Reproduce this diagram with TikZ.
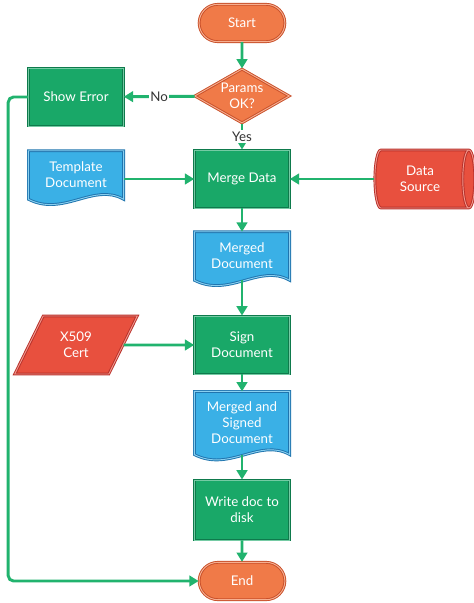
\documentclass[tikz,border=0pt]{standalone}
\usepackage{fontspec}
\setmainfont{Lato}
\usetikzlibrary{shapes.geometric,shapes.misc,arrows.meta,backgrounds}
\definecolor{termfill}{HTML}{F07A48}
\definecolor{termline}{HTML}{C9502A}
\definecolor{procfill}{HTML}{19A868}
\definecolor{procline}{HTML}{0E7A4C}
\definecolor{docfill}{HTML}{3AB0E6}
\definecolor{docline}{HTML}{1F74AE}
\definecolor{datafill}{HTML}{E8503E}
\definecolor{dataline}{HTML}{B8302A}
\definecolor{flowline}{HTML}{21B36E}
\begin{document}
\begin{tikzpicture}[x=0.75pt,y=-0.75pt,
  every node/.style={font=\fontsize{10}{12}\selectfont,text=white,align=center},
  outline/.style={line width=0.7pt,double distance=0.7pt},
  terminal/.style={rounded rectangle,outline,draw=termline,double=termfill!60!white,fill=termfill,minimum width=71pt,minimum height=28pt},
  decision/.style={diamond,outline,draw=termline,double=termfill!60!white,fill=termfill,aspect=1.75,inner sep=1pt,minimum width=71pt,minimum height=40pt},
  process/.style={rectangle,outline,draw=procline,double=procfill!60!white,fill=procfill,minimum width=71pt,minimum height=43.5pt},
  docbox/.style={rectangle,minimum width=71pt,inner sep=2pt},
  docshape/.style={outline,draw=docline,double=docfill!60!white,fill=docfill},
  datastore/.style={cylinder,outline,draw=dataline,double=datafill!60!white,fill=datafill,aspect=0.35,minimum width=43.5pt,minimum height=75pt},
  datain/.style={trapezium,trapezium left angle=63,trapezium right angle=117,trapezium stretches=true,outline,draw=dataline,double=datafill!60!white,fill=datafill,minimum width=92pt,minimum height=43.5pt},
  flow/.style={draw=flowline,line width=2.2pt,-{Triangle[length=7pt,width=8pt]}},
  answer/.style={text=black!80,fill=white,inner sep=1pt}
]
\useasboundingbox (0,0) rectangle (474,603);

% main column
\node[terminal] (start) at (242,23) {Start};
\node[decision] (params) at (242,96) {Params\\OK?};
\node[process] (showerr) at (76,97) {Show Error};
\node[process] (merge) at (242,179) {Merge Data};
\node[docbox,minimum height=36pt] (template) at (76,175) {Template\\Document};
\node[datastore] (source) at (420,179) {Data\\Source};
\node[docbox,minimum height=36pt] (merged) at (242,256) {Merged\\Document};
\node[datain] (cert) at (76,345) {X509\\Cert};
\node[process] (sign) at (242,345) {Sign\\Document};
\node[docbox,minimum height=47pt] (signed) at (242,423) {Merged and\\Signed\\Document};
\node[process,minimum height=45pt] (write) at (242,510) {Write doc to\\disk};
\node[terminal] (end) at (242,581) {End};

% wavy documents
\begin{pgfonlayer}{background}
\foreach \d in {template,merged,signed}
  \draw[docshape] (\d.north west) -- (\d.north east) -- (\d.south east)
    .. controls +(-30,-17) and +(35,18) .. (\d.south west) -- cycle;
\end{pgfonlayer}

% connectors
\draw[flow] (start) -- (params);
\draw[flow] (params) -- node[answer] {No} (showerr);
\draw[flow] (params) -- node[answer,pos=0.5] {Yes} (merge);
\draw[flow] (template.east |- merge.west) -- (merge.west);
\draw[flow] (source.west) -- (merge.east);
\draw[flow] (merge) -- (merged);
\draw[flow] (merged.south) -- (sign.north);
\draw[flow] (cert.east) -- (sign.west);
\draw[flow] (sign) -- (signed);
\draw[flow] (signed.south) -- (write.north);
\draw[flow] (write) -- (end);
\draw[flow,rounded corners=4pt] (showerr.west) -- ++(-20,0) |- (end.west);
\end{tikzpicture}
\end{document}
